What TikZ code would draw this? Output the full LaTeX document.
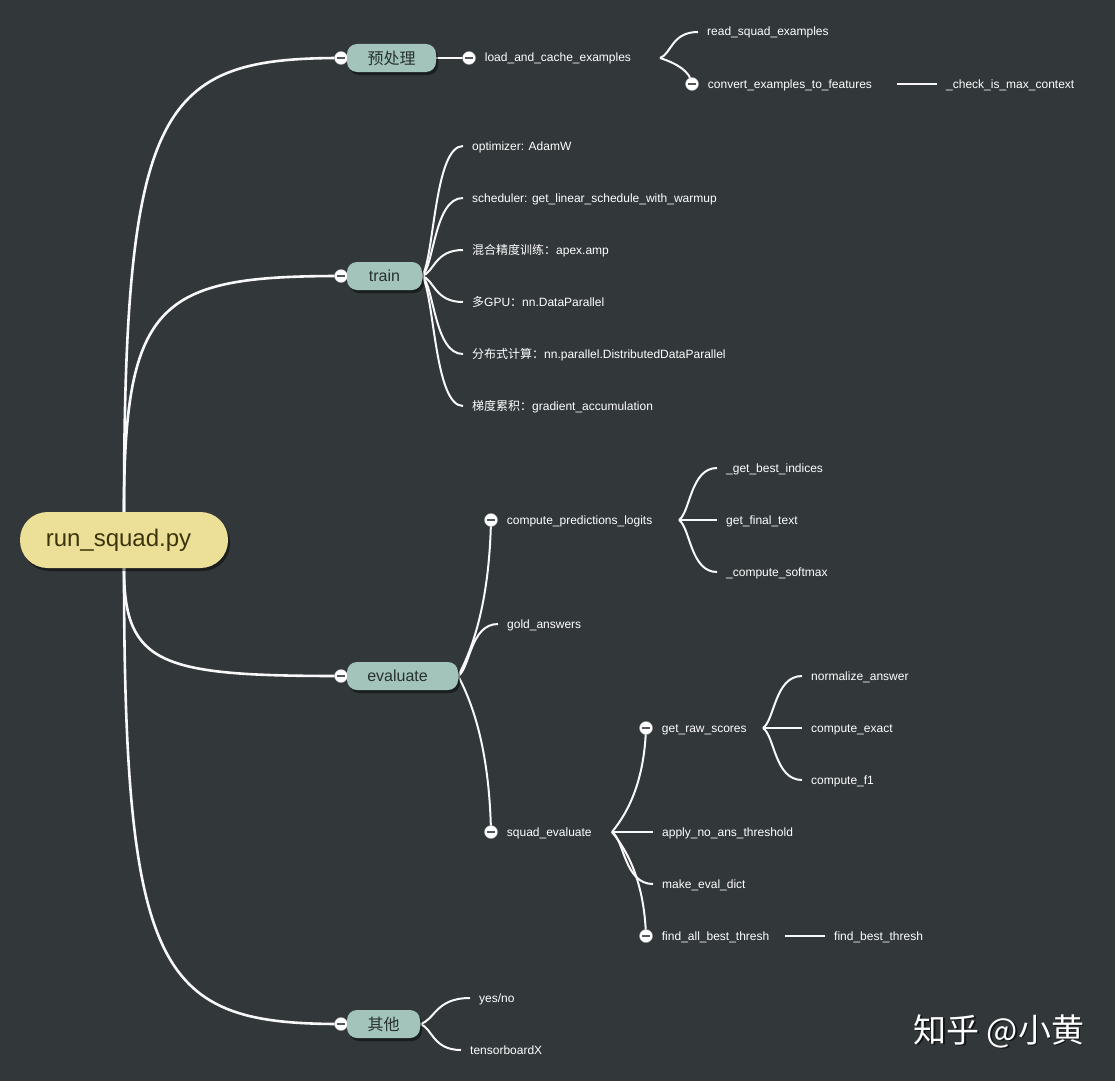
\documentclass[tikz,border=0pt]{standalone}
\usepackage{fontspec}
\setmainfont{Liberation Sans}
\newfontfamily\cjk{Noto Sans CJK SC}
\usetikzlibrary{calc,shadows}
\definecolor{bgc}{RGB}{50,55,58}
\definecolor{rootfill}{RGB}{236,224,152}
\definecolor{roottext}{RGB}{60,52,10}
\definecolor{topfill}{RGB}{162,196,187}
\definecolor{toptext}{RGB}{40,48,48}
\definecolor{linec}{RGB}{248,248,248}
\definecolor{minusc}{RGB}{85,88,90}
\pgfdeclarelayer{back}
\pgfdeclarelayer{edges}
\pgfsetlayers{back,edges,main}
\newcommand\mmfan[2]{\draw[fanline] let \p1=(#1), \p2=(#2) in (\p1) .. controls ({\x1+0.3*(\x2-\x1)},{\y1+0.15*(\y2-\y1)}) and ({\x1+0.3*(\x2-\x1)},{\y2}) .. (\p2);}
\newcommand\mmcirc[2]{\draw[fanline] let \p1=(#1), \p2=(#2) in (\p1) .. controls ({\x1+0.5*(\x2-\x1)},{\y1+0.2*(\y2-\y1)}) and ({\x2-0.05*(\x2-\x1)},{\y2-0.5*(\y2-\y1)}) .. (\p2);}
\newcommand\mmroot[2]{\draw[rootline] let \p1=(#1), \p2=(#2) in (\p1) .. controls ({\x1},{\y2+0.1*(\y1-\y2)}) and ({\x1+0.17*(\x2-\x1)},{\y2}) .. (\p2);}
\begin{document}
\begin{tikzpicture}[x=1pt,y=-1pt,
  rootbox/.style={rectangle, rounded corners=27.5pt, fill=rootfill, text=roottext, minimum width=208pt, minimum height=56pt, inner sep=0pt, font=\fontsize{24}{28}\selectfont, drop shadow={shadow xshift=2pt, shadow yshift=-3pt, opacity=0.45, fill=black}},
  topbox/.style={rectangle, rounded corners=10pt, fill=topfill, text=toptext, minimum height=28pt, inner sep=0pt, font=\fontsize{16}{19}\selectfont, drop shadow={shadow xshift=2pt, shadow yshift=-3pt, opacity=0.45, fill=black}},
  tog/.style={circle, fill=white, draw=gray!70, line width=0.4pt, minimum size=13pt, inner sep=0pt, path picture={\draw[minusc, line width=2.2pt] ([xshift=-4pt]path picture bounding box.center) -- ([xshift=4pt]path picture bounding box.center);}},
  lbl/.style={anchor=west, inner xsep=9pt, inner ysep=2pt, text height=10pt, text depth=2pt, text=white, font=\fontsize{12}{14}\selectfont},
  rootline/.style={draw=linec, line width=2.6pt},
  fanline/.style={draw=linec, line width=2pt}]
\begin{pgfonlayer}{back}
\fill[bgc] (0,0) rectangle (1115,1081);
\end{pgfonlayer}
\useasboundingbox (0,0) rectangle (1115,1081);

\node[rootbox] (root) at (124,540) {run\_squad.py\kern11pt\relax};
\node[topbox, minimum width=89pt] (pre) at (391.5,58) {\cjk 预处理};
\node[topbox, minimum width=75pt] (train) at (384.5,276) {train};
\node[topbox, minimum width=111pt] (eval) at (402.5,676) {evaluate\kern10pt\relax};
\node[topbox, minimum width=73pt] (other) at (383.5,1024) {\cjk 其他};
\node[tog] (tpre) at (341,58) {};
\node[tog] (ttrain) at (341,276) {};
\node[tog] (teval) at (341,676) {};
\node[tog] (tother) at (341,1024) {};

% preprocessing branch
\node[tog] (tload) at (469,58) {};
\node[lbl] (load) at (tload.east) {load\_and\_cache\_examples};
\coordinate (hload) at (660,58);
\node[lbl] (read) at (698,32) {read\_squad\_examples};
\node[tog] (tconv) at (692,84) {};
\node[lbl] (conv) at (tconv.east) {convert\_examples\_to\_features};
\coordinate (hconv) at (897,84);
\node[lbl] (check) at (937,84) {\_check\_is\_max\_context};

% train branch
\node[lbl] (opt) at (463,146) {optimizer: AdamW};
\node[lbl] (sched) at (463,198) {scheduler: get\_linear\_schedule\_with\_warmup};
\node[lbl] (amp) at (463,250) {{\cjk 混合精度训练：}apex.amp};
\node[lbl] (gpu) at (463,302) {{\cjk 多}GPU{\cjk ：}nn.DataParallel};
\node[lbl] (dist) at (463,354) {{\cjk 分布式计算：}nn.parallel.DistributedDataParallel};
\node[lbl] (grad) at (463,406) {{\cjk 梯度累积：}gradient\_accumulation};

% evaluate branch
\node[tog] (tcpl) at (491,520) {};
\node[lbl] (cpl) at (tcpl.east) {compute\_predictions\_logits};
\coordinate (hcpl) at (679,520);
\node[lbl] (gbi) at (717,468) {\_get\_best\_indices};
\node[lbl] (gft) at (717,520) {get\_final\_text};
\node[lbl] (cs) at (717,572) {\_compute\_softmax};
\node[lbl] (gold) at (498,624) {gold\_answers};
\node[tog] (tsq) at (491,832) {};
\node[lbl] (sq) at (tsq.east) {squad\_evaluate};
\coordinate (hsq) at (612,832);
\node[tog] (tgrs) at (646,728) {};
\node[lbl] (grs) at (tgrs.east) {get\_raw\_scores};
\coordinate (hgrs) at (763,728);
\node[lbl] (na) at (802,676) {normalize\_answer};
\node[lbl] (ce) at (802,728) {compute\_exact};
\node[lbl] (cf) at (802,780) {compute\_f1};
\node[lbl] (ana) at (653,832) {apply\_no\_ans\_threshold};
\node[lbl] (med) at (653,884) {make\_eval\_dict};
\node[tog] (tfab) at (646,936) {};
\node[lbl] (fab) at (tfab.east) {find\_all\_best\_thresh};
\coordinate (hfab) at (785,936);
\node[lbl] (fbt) at (825,936) {find\_best\_thresh};

% other branch
\node[lbl] (yn) at (470,998) {yes/no};
\node[lbl] (tbx) at (461,1050) {tensorboardX};

% watermark
\node[anchor=west, text=black, opacity=0.6, font=\cjk\fontsize{33}{37}\selectfont] (wmshadow) at (911.5,1032.5) {知乎 @小黄};
\node[anchor=west, text=white, font=\cjk\fontsize{33}{37}\selectfont] (wm) at (910,1031) {知乎 @小黄};

\begin{pgfonlayer}{edges}
\mmroot{root.north}{tpre.center}
\mmroot{root.north}{ttrain.center}
\mmroot{root.south}{teval.center}
\mmroot{root.south}{tother.center}
\draw[fanline] (pre.east) -- (tload.center);
\mmfan{hload}{read.west}
\mmcirc{hload}{tconv.center}
\draw[fanline] (hconv) -- (check.west);
\mmfan{train.east}{opt.west}
\mmfan{train.east}{sched.west}
\mmfan{train.east}{amp.west}
\mmfan{train.east}{gpu.west}
\mmfan{train.east}{dist.west}
\mmfan{train.east}{grad.west}
\mmcirc{eval.east}{tcpl.center}
\mmfan{eval.east}{gold.west}
\mmcirc{eval.east}{tsq.center}
\mmfan{hcpl}{gbi.west}
\mmfan{hcpl}{gft.west}
\mmfan{hcpl}{cs.west}
\mmcirc{hsq}{tgrs.center}
\mmfan{hsq}{ana.west}
\mmfan{hsq}{med.west}
\mmcirc{hsq}{tfab.center}
\mmfan{hgrs}{na.west}
\mmfan{hgrs}{ce.west}
\mmfan{hgrs}{cf.west}
\draw[fanline] (hfab) -- (fbt.west);
\mmfan{other.east}{yn.west}
\mmfan{other.east}{tbx.west}
\end{pgfonlayer}
\end{tikzpicture}
\end{document}
